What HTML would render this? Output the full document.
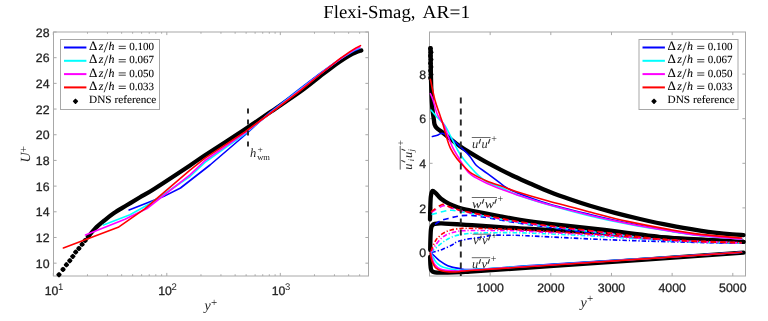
<!DOCTYPE html>
<html><head><meta charset="utf-8"><style>
html,body{margin:0;padding:0;background:#fff;overflow:hidden}
svg{display:block;will-change:transform;text-rendering:geometricPrecision}
.tk{font-family:"Liberation Sans",sans-serif;font-size:12.3px;fill:#262626;stroke:#262626;stroke-width:0.3px}
.sup{font-family:"Liberation Sans",sans-serif;font-size:9.5px;fill:#262626}
.mi{font-family:"Liberation Serif",serif;font-style:italic;font-size:14px;fill:#262626}
.pl{font-family:"Liberation Serif",serif;font-size:11px;fill:#262626}
.lg{font-family:"Liberation Serif",serif;font-size:11px;fill:#000;stroke:#000;stroke-width:0.08px}
.dl{font-size:13px}
.it{font-style:italic;font-size:12px}
.mih{font-family:"Liberation Serif",serif;font-style:italic;font-size:12.5px;fill:#262626}
.pls{font-family:"Liberation Serif",serif;font-size:9.5px;fill:#262626}
.sub{font-family:"Liberation Serif",serif;font-size:8.5px;fill:#262626}
.ml{font-family:"Liberation Serif",serif;font-style:italic;font-size:12.5px;fill:#262626}
.mlp{font-family:"Liberation Serif",serif;font-size:10px;fill:#262626}
.mpr{font-family:"Liberation Serif",serif;font-size:12px;fill:#262626}
.sb{font-family:"Liberation Serif",serif;font-style:italic;font-size:8.5px;fill:#262626}
.ti{font-family:"Liberation Serif",serif;font-size:18.5px;fill:#000}
</style></head><body>
<svg width="768" height="321" viewBox="0 0 768 321">
<rect width="768" height="321" fill="#fff"/>
<rect x="53.5" y="32" width="315.0" height="244" fill="none" stroke="#a8a8a8" stroke-width="1"/>
<line x1="53.5" y1="263.16" x2="56.6" y2="263.16" stroke="#a8a8a8" stroke-width="1"/>
<line x1="368.5" y1="263.16" x2="365.4" y2="263.16" stroke="#a8a8a8" stroke-width="1"/>
<text x="49.5" y="267.76" class="tk" text-anchor="end">10</text>
<line x1="53.5" y1="237.47" x2="56.6" y2="237.47" stroke="#a8a8a8" stroke-width="1"/>
<line x1="368.5" y1="237.47" x2="365.4" y2="237.47" stroke="#a8a8a8" stroke-width="1"/>
<text x="49.5" y="242.07" class="tk" text-anchor="end">12</text>
<line x1="53.5" y1="211.79" x2="56.6" y2="211.79" stroke="#a8a8a8" stroke-width="1"/>
<line x1="368.5" y1="211.79" x2="365.4" y2="211.79" stroke="#a8a8a8" stroke-width="1"/>
<text x="49.5" y="216.39" class="tk" text-anchor="end">14</text>
<line x1="53.5" y1="186.11" x2="56.6" y2="186.11" stroke="#a8a8a8" stroke-width="1"/>
<line x1="368.5" y1="186.11" x2="365.4" y2="186.11" stroke="#a8a8a8" stroke-width="1"/>
<text x="49.5" y="190.71" class="tk" text-anchor="end">16</text>
<line x1="53.5" y1="160.42" x2="56.6" y2="160.42" stroke="#a8a8a8" stroke-width="1"/>
<line x1="368.5" y1="160.42" x2="365.4" y2="160.42" stroke="#a8a8a8" stroke-width="1"/>
<text x="49.5" y="165.02" class="tk" text-anchor="end">18</text>
<line x1="53.5" y1="134.74" x2="56.6" y2="134.74" stroke="#a8a8a8" stroke-width="1"/>
<line x1="368.5" y1="134.74" x2="365.4" y2="134.74" stroke="#a8a8a8" stroke-width="1"/>
<text x="49.5" y="139.34" class="tk" text-anchor="end">20</text>
<line x1="53.5" y1="109.05" x2="56.6" y2="109.05" stroke="#a8a8a8" stroke-width="1"/>
<line x1="368.5" y1="109.05" x2="365.4" y2="109.05" stroke="#a8a8a8" stroke-width="1"/>
<text x="49.5" y="113.65" class="tk" text-anchor="end">22</text>
<line x1="53.5" y1="83.37" x2="56.6" y2="83.37" stroke="#a8a8a8" stroke-width="1"/>
<line x1="368.5" y1="83.37" x2="365.4" y2="83.37" stroke="#a8a8a8" stroke-width="1"/>
<text x="49.5" y="87.97" class="tk" text-anchor="end">24</text>
<line x1="53.5" y1="57.69" x2="56.6" y2="57.69" stroke="#a8a8a8" stroke-width="1"/>
<line x1="368.5" y1="57.69" x2="365.4" y2="57.69" stroke="#a8a8a8" stroke-width="1"/>
<text x="49.5" y="62.29" class="tk" text-anchor="end">26</text>
<line x1="53.5" y1="32.00" x2="56.6" y2="32.00" stroke="#a8a8a8" stroke-width="1"/>
<line x1="368.5" y1="32.00" x2="365.4" y2="32.00" stroke="#a8a8a8" stroke-width="1"/>
<text x="49.5" y="36.60" class="tk" text-anchor="end">28</text>
<line x1="53.30" y1="276" x2="53.30" y2="272.9" stroke="#a8a8a8" stroke-width="1"/>
<line x1="53.30" y1="32" x2="53.30" y2="35.1" stroke="#a8a8a8" stroke-width="1"/>
<line x1="87.47" y1="276" x2="87.47" y2="274.295" stroke="#a8a8a8" stroke-width="1"/>
<line x1="87.47" y1="32" x2="87.47" y2="33.705" stroke="#a8a8a8" stroke-width="1"/>
<line x1="107.45" y1="276" x2="107.45" y2="274.295" stroke="#a8a8a8" stroke-width="1"/>
<line x1="107.45" y1="32" x2="107.45" y2="33.705" stroke="#a8a8a8" stroke-width="1"/>
<line x1="121.63" y1="276" x2="121.63" y2="274.295" stroke="#a8a8a8" stroke-width="1"/>
<line x1="121.63" y1="32" x2="121.63" y2="33.705" stroke="#a8a8a8" stroke-width="1"/>
<line x1="132.63" y1="276" x2="132.63" y2="274.295" stroke="#a8a8a8" stroke-width="1"/>
<line x1="132.63" y1="32" x2="132.63" y2="33.705" stroke="#a8a8a8" stroke-width="1"/>
<line x1="141.62" y1="276" x2="141.62" y2="274.295" stroke="#a8a8a8" stroke-width="1"/>
<line x1="141.62" y1="32" x2="141.62" y2="33.705" stroke="#a8a8a8" stroke-width="1"/>
<line x1="149.22" y1="276" x2="149.22" y2="274.295" stroke="#a8a8a8" stroke-width="1"/>
<line x1="149.22" y1="32" x2="149.22" y2="33.705" stroke="#a8a8a8" stroke-width="1"/>
<line x1="155.80" y1="276" x2="155.80" y2="274.295" stroke="#a8a8a8" stroke-width="1"/>
<line x1="155.80" y1="32" x2="155.80" y2="33.705" stroke="#a8a8a8" stroke-width="1"/>
<line x1="161.61" y1="276" x2="161.61" y2="274.295" stroke="#a8a8a8" stroke-width="1"/>
<line x1="161.61" y1="32" x2="161.61" y2="33.705" stroke="#a8a8a8" stroke-width="1"/>
<text x="44.70" y="294.8" class="tk">10</text><text x="57.90" y="289.8" class="sup">1</text>
<line x1="166.80" y1="276" x2="166.80" y2="272.9" stroke="#a8a8a8" stroke-width="1"/>
<line x1="166.80" y1="32" x2="166.80" y2="35.1" stroke="#a8a8a8" stroke-width="1"/>
<line x1="200.97" y1="276" x2="200.97" y2="274.295" stroke="#a8a8a8" stroke-width="1"/>
<line x1="200.97" y1="32" x2="200.97" y2="33.705" stroke="#a8a8a8" stroke-width="1"/>
<line x1="220.95" y1="276" x2="220.95" y2="274.295" stroke="#a8a8a8" stroke-width="1"/>
<line x1="220.95" y1="32" x2="220.95" y2="33.705" stroke="#a8a8a8" stroke-width="1"/>
<line x1="235.13" y1="276" x2="235.13" y2="274.295" stroke="#a8a8a8" stroke-width="1"/>
<line x1="235.13" y1="32" x2="235.13" y2="33.705" stroke="#a8a8a8" stroke-width="1"/>
<line x1="246.13" y1="276" x2="246.13" y2="274.295" stroke="#a8a8a8" stroke-width="1"/>
<line x1="246.13" y1="32" x2="246.13" y2="33.705" stroke="#a8a8a8" stroke-width="1"/>
<line x1="255.12" y1="276" x2="255.12" y2="274.295" stroke="#a8a8a8" stroke-width="1"/>
<line x1="255.12" y1="32" x2="255.12" y2="33.705" stroke="#a8a8a8" stroke-width="1"/>
<line x1="262.72" y1="276" x2="262.72" y2="274.295" stroke="#a8a8a8" stroke-width="1"/>
<line x1="262.72" y1="32" x2="262.72" y2="33.705" stroke="#a8a8a8" stroke-width="1"/>
<line x1="269.30" y1="276" x2="269.30" y2="274.295" stroke="#a8a8a8" stroke-width="1"/>
<line x1="269.30" y1="32" x2="269.30" y2="33.705" stroke="#a8a8a8" stroke-width="1"/>
<line x1="275.11" y1="276" x2="275.11" y2="274.295" stroke="#a8a8a8" stroke-width="1"/>
<line x1="275.11" y1="32" x2="275.11" y2="33.705" stroke="#a8a8a8" stroke-width="1"/>
<text x="158.20" y="294.8" class="tk">10</text><text x="171.40" y="289.8" class="sup">2</text>
<line x1="280.30" y1="276" x2="280.30" y2="272.9" stroke="#a8a8a8" stroke-width="1"/>
<line x1="280.30" y1="32" x2="280.30" y2="35.1" stroke="#a8a8a8" stroke-width="1"/>
<line x1="314.47" y1="276" x2="314.47" y2="274.295" stroke="#a8a8a8" stroke-width="1"/>
<line x1="314.47" y1="32" x2="314.47" y2="33.705" stroke="#a8a8a8" stroke-width="1"/>
<line x1="334.45" y1="276" x2="334.45" y2="274.295" stroke="#a8a8a8" stroke-width="1"/>
<line x1="334.45" y1="32" x2="334.45" y2="33.705" stroke="#a8a8a8" stroke-width="1"/>
<line x1="348.63" y1="276" x2="348.63" y2="274.295" stroke="#a8a8a8" stroke-width="1"/>
<line x1="348.63" y1="32" x2="348.63" y2="33.705" stroke="#a8a8a8" stroke-width="1"/>
<line x1="359.63" y1="276" x2="359.63" y2="274.295" stroke="#a8a8a8" stroke-width="1"/>
<line x1="359.63" y1="32" x2="359.63" y2="33.705" stroke="#a8a8a8" stroke-width="1"/>
<text x="271.70" y="294.8" class="tk">10</text><text x="284.90" y="289.8" class="sup">3</text>
<text x="204.5" y="310.3" class="mi">y</text><text x="211" y="305.8" class="pl">+</text>
<g transform="translate(29.6,158) rotate(-90)"><text x="-4.5" y="0" class="mi">U</text><text x="5.8" y="-2.2" class="pl">+</text></g>
<rect x="429.5" y="32" width="316.0" height="244" fill="none" stroke="#a8a8a8" stroke-width="1"/>
<line x1="429.5" y1="252.50" x2="432.6" y2="252.50" stroke="#a8a8a8" stroke-width="1"/>
<line x1="745.5" y1="252.50" x2="742.4" y2="252.50" stroke="#a8a8a8" stroke-width="1"/>
<text x="426" y="257.10" class="tk" text-anchor="end">0</text>
<line x1="429.5" y1="207.90" x2="432.6" y2="207.90" stroke="#a8a8a8" stroke-width="1"/>
<line x1="745.5" y1="207.90" x2="742.4" y2="207.90" stroke="#a8a8a8" stroke-width="1"/>
<text x="426" y="212.50" class="tk" text-anchor="end">2</text>
<line x1="429.5" y1="163.30" x2="432.6" y2="163.30" stroke="#a8a8a8" stroke-width="1"/>
<line x1="745.5" y1="163.30" x2="742.4" y2="163.30" stroke="#a8a8a8" stroke-width="1"/>
<text x="426" y="167.90" class="tk" text-anchor="end">4</text>
<line x1="429.5" y1="118.70" x2="432.6" y2="118.70" stroke="#a8a8a8" stroke-width="1"/>
<line x1="745.5" y1="118.70" x2="742.4" y2="118.70" stroke="#a8a8a8" stroke-width="1"/>
<text x="426" y="123.30" class="tk" text-anchor="end">6</text>
<line x1="429.5" y1="74.10" x2="432.6" y2="74.10" stroke="#a8a8a8" stroke-width="1"/>
<line x1="745.5" y1="74.10" x2="742.4" y2="74.10" stroke="#a8a8a8" stroke-width="1"/>
<text x="426" y="78.70" class="tk" text-anchor="end">8</text>
<line x1="490.16" y1="276" x2="490.16" y2="272.9" stroke="#a8a8a8" stroke-width="1"/>
<line x1="490.16" y1="32" x2="490.16" y2="35.1" stroke="#a8a8a8" stroke-width="1"/>
<text x="490.16" y="291.5" class="tk" text-anchor="middle">1000</text>
<line x1="550.82" y1="276" x2="550.82" y2="272.9" stroke="#a8a8a8" stroke-width="1"/>
<line x1="550.82" y1="32" x2="550.82" y2="35.1" stroke="#a8a8a8" stroke-width="1"/>
<text x="550.82" y="291.5" class="tk" text-anchor="middle">2000</text>
<line x1="611.48" y1="276" x2="611.48" y2="272.9" stroke="#a8a8a8" stroke-width="1"/>
<line x1="611.48" y1="32" x2="611.48" y2="35.1" stroke="#a8a8a8" stroke-width="1"/>
<text x="611.48" y="291.5" class="tk" text-anchor="middle">3000</text>
<line x1="672.14" y1="276" x2="672.14" y2="272.9" stroke="#a8a8a8" stroke-width="1"/>
<line x1="672.14" y1="32" x2="672.14" y2="35.1" stroke="#a8a8a8" stroke-width="1"/>
<text x="672.14" y="291.5" class="tk" text-anchor="middle">4000</text>
<line x1="732.80" y1="276" x2="732.80" y2="272.9" stroke="#a8a8a8" stroke-width="1"/>
<line x1="732.80" y1="32" x2="732.80" y2="35.1" stroke="#a8a8a8" stroke-width="1"/>
<text x="732.80" y="291.5" class="tk" text-anchor="middle">5000</text>
<text x="580.5" y="306.5" class="mi">y</text><text x="587" y="301.5" class="pl">+</text>
<rect x="56.8" y="272.5" width="4.4" height="4.4" rx="1.2" fill="#000" transform="rotate(45 59 274.7)"/>
<rect x="60.8" y="267.2" width="4.4" height="4.4" rx="1.2" fill="#000" transform="rotate(45 63 269.4)"/>
<rect x="64.2" y="262.6" width="4.4" height="4.4" rx="1.2" fill="#000" transform="rotate(45 66.4 264.8)"/>
<rect x="67.6" y="258.5" width="4.4" height="4.4" rx="1.2" fill="#000" transform="rotate(45 69.8 260.7)"/>
<rect x="70.6" y="254.2" width="4.4" height="4.4" rx="1.2" fill="#000" transform="rotate(45 72.8 256.4)"/>
<rect x="73.5" y="249.9" width="4.4" height="4.4" rx="1.2" fill="#000" transform="rotate(45 75.7 252.1)"/>
<rect x="76.7" y="246.20000000000002" width="4.4" height="4.4" rx="1.2" fill="#000" transform="rotate(45 78.9 248.4)"/>
<rect x="79.89999999999999" y="242.10000000000002" width="4.4" height="4.4" rx="1.2" fill="#000" transform="rotate(45 82.1 244.3)"/>
<rect x="83.0" y="238.20000000000002" width="4.4" height="4.4" rx="1.2" fill="#000" transform="rotate(45 85.2 240.4)"/>
<rect x="86.0" y="234.60000000000002" width="4.4" height="4.4" rx="1.2" fill="#000" transform="rotate(45 88.2 236.8)"/>
<path d="M88.20,236.80 C89.33,235.43 92.32,231.32 95.00,228.60 C97.68,225.88 101.18,223.05 104.30,220.50 C107.42,217.95 109.97,215.83 113.70,213.30 C117.43,210.77 122.32,207.97 126.70,205.30 C131.08,202.63 135.30,200.12 140.00,197.30 C144.70,194.48 146.57,193.72 154.90,188.40 C163.23,183.08 181.65,170.93 190.00,165.40 C198.35,159.87 195.83,161.22 205.00,155.20 C214.17,149.18 234.17,136.45 245.00,129.30 C255.83,122.15 260.83,118.55 270.00,112.30 C279.17,106.05 291.67,97.80 300.00,91.80 C308.33,85.80 315.00,80.15 320.00,76.30 C325.00,72.45 326.67,71.15 330.00,68.70 C333.33,66.25 336.67,63.83 340.00,61.60 C343.33,59.37 347.33,56.85 350.00,55.30 C352.67,53.75 354.12,53.10 356.00,52.30 C357.88,51.50 360.42,50.80 361.30,50.50" fill="none" stroke="#000" stroke-width="4.2" stroke-linejoin="round" stroke-linecap="round" />
<path d="M129.10,209.90 L163.40,196.60 L180.50,188.00 L210.00,165.00 L245.00,135.00 L270.00,112.20 L300.00,88.70 L320.00,73.40 L335.00,62.60 L345.00,56.00 L355.00,50.40 L359.50,48.40" fill="none" stroke="#0000ff" stroke-width="1.6" stroke-linejoin="round" stroke-linecap="round" />
<path d="M103.40,224.90 L130.00,214.80 L149.30,204.00 L190.00,176.50 L205.00,162.40 L245.00,133.80 L270.00,112.80 L300.00,89.40 L320.00,73.80 L330.00,66.30 L340.00,59.20 L350.00,52.80 L356.00,49.40 L359.50,48.00" fill="none" stroke="#00ffff" stroke-width="1.6" stroke-linejoin="round" stroke-linecap="round" />
<path d="M85.50,235.00 L125.00,219.20 L147.00,208.50 L190.00,174.80 L205.00,160.50 L245.00,132.80 L270.00,113.30 L300.00,90.10 L320.00,74.20 L330.00,66.50 L340.00,59.00 L350.00,52.30 L356.00,48.90 L360.00,47.00" fill="none" stroke="#ff00ff" stroke-width="1.6" stroke-linejoin="round" stroke-linecap="round" />
<path d="M63.40,248.00 L118.20,227.30 L144.70,208.80 L190.00,170.10 L205.00,158.20 L245.00,131.90 L270.00,113.50 L300.00,90.80 L320.00,74.50 L330.00,66.50 L340.00,58.60 L350.00,51.60 L356.00,47.90 L360.50,45.60" fill="none" stroke="#ff0000" stroke-width="1.6" stroke-linejoin="round" stroke-linecap="round" />
<line x1="248" y1="108.5" x2="248" y2="148" stroke="#262626" stroke-width="1.9" stroke-dasharray="5 6"/>
<text x="250" y="156.6" class="mih">h</text><text x="257.6" y="153.2" class="pls">+</text><text x="257.2" y="159.6" class="sub">wm</text>
<circle cx="430.50" cy="48.50" r="2.4" fill="#000"/>
<circle cx="431.00" cy="52.20" r="2.4" fill="#000"/>
<circle cx="430.50" cy="55.90" r="2.4" fill="#000"/>
<circle cx="431.00" cy="59.60" r="2.4" fill="#000"/>
<circle cx="430.50" cy="63.30" r="2.4" fill="#000"/>
<circle cx="431.00" cy="67.00" r="2.4" fill="#000"/>
<circle cx="430.50" cy="70.70" r="2.4" fill="#000"/>
<circle cx="431.00" cy="74.40" r="2.4" fill="#000"/>
<circle cx="430.50" cy="78.10" r="2.4" fill="#000"/>
<path d="M430.40,48.50 C430.43,50.42 430.52,55.58 430.60,60.00 C430.68,64.42 430.75,69.17 430.90,75.00 C431.05,80.83 431.27,89.50 431.50,95.00 C431.73,100.50 431.90,103.83 432.30,108.00 C432.70,112.17 433.52,117.25 433.90,120.00 C434.28,122.75 434.13,123.15 434.60,124.50 C435.07,125.85 435.52,126.88 436.70,128.10 C437.88,129.32 439.48,130.07 441.70,131.80 C443.92,133.53 446.95,136.10 450.00,138.50 C453.05,140.90 456.67,143.85 460.00,146.20 C463.33,148.55 466.67,150.53 470.00,152.60 C473.33,154.67 476.67,156.67 480.00,158.60 C483.33,160.53 486.67,162.40 490.00,164.20 C493.33,166.00 495.83,167.30 500.00,169.40 C504.17,171.50 510.00,174.45 515.00,176.80 C520.00,179.15 524.17,180.97 530.00,183.50 C535.83,186.03 543.33,189.37 550.00,192.00 C556.67,194.63 563.33,197.00 570.00,199.30 C576.67,201.60 582.50,203.53 590.00,205.80 C597.50,208.07 606.67,210.70 615.00,212.90 C623.33,215.10 630.83,216.92 640.00,219.00 C649.17,221.08 660.00,223.47 670.00,225.40 C680.00,227.33 692.22,229.35 700.00,230.60 C707.78,231.85 711.32,232.27 716.70,232.90 C722.08,233.53 727.83,234.03 732.30,234.40 C736.77,234.77 741.63,234.98 743.50,235.10" fill="none" stroke="#000" stroke-width="4.3" stroke-linejoin="round" stroke-linecap="round" />
<path d="M430.00,219.50 C430.05,217.58 430.17,211.75 430.30,208.00 C430.43,204.25 430.48,199.80 430.80,197.00 C431.12,194.20 431.58,192.03 432.20,191.20 C432.82,190.37 433.70,191.45 434.50,192.00 C435.30,192.55 435.92,193.38 437.00,194.50 C438.08,195.62 438.95,197.13 441.00,198.70 C443.05,200.27 446.35,202.42 449.30,203.90 C452.25,205.38 455.92,206.63 458.70,207.60 C461.48,208.57 462.45,208.92 466.00,209.70 C469.55,210.48 474.28,211.20 480.00,212.30 C485.72,213.40 493.63,215.05 500.30,216.30 C506.97,217.55 511.72,218.55 520.00,219.80 C528.28,221.05 536.67,222.18 550.00,223.80 C563.33,225.42 580.00,227.13 600.00,229.50 C620.00,231.87 653.15,236.25 670.00,238.00 C686.85,239.75 688.85,239.35 701.10,240.00 C713.35,240.65 736.43,241.58 743.50,241.90" fill="none" stroke="#000" stroke-width="4.3" stroke-linejoin="round" stroke-linecap="round" />
<path d="M430.20,250.00 C430.23,248.33 430.27,243.50 430.40,240.00 C430.53,236.50 430.67,231.45 431.00,229.00 C431.33,226.55 431.78,226.17 432.40,225.30 C433.02,224.43 433.43,224.12 434.70,223.80 C435.97,223.48 438.33,223.43 440.00,223.40 C441.67,223.37 440.37,223.37 444.70,223.60 C449.03,223.83 459.62,224.40 466.00,224.80 C472.38,225.20 474.00,225.40 483.00,226.00 C492.00,226.60 500.50,227.30 520.00,228.40 C539.50,229.50 575.00,231.03 600.00,232.60 C625.00,234.17 646.08,236.25 670.00,237.80 C693.92,239.35 731.25,241.22 743.50,241.90" fill="none" stroke="#000" stroke-width="4.3" stroke-linejoin="round" stroke-linecap="round" />
<path d="M430.10,257.00 C430.15,258.25 430.25,262.45 430.40,264.50 C430.55,266.55 430.65,268.13 431.00,269.30 C431.35,270.47 431.83,270.98 432.50,271.50 C433.17,272.02 433.75,272.20 435.00,272.40 C436.25,272.60 437.87,272.67 440.00,272.70 C442.13,272.73 444.47,272.70 447.80,272.60 C451.13,272.50 456.30,272.28 460.00,272.10 C463.70,271.92 455.00,272.48 470.00,271.50 C485.00,270.52 504.42,269.35 550.00,266.20 C595.58,263.05 711.25,254.87 743.50,252.60" fill="none" stroke="#000" stroke-width="4.3" stroke-linejoin="round" stroke-linecap="round" />
<path d="M432.40,136.50 C433.22,136.30 435.53,135.82 437.30,135.30 C439.07,134.78 440.52,132.73 443.00,133.40 C445.48,134.07 449.20,136.97 452.20,139.30 C455.20,141.63 458.08,144.58 461.00,147.40 C463.92,150.22 467.17,153.23 469.70,156.20 C472.23,159.17 473.28,162.33 476.20,165.20 C479.12,168.07 483.30,170.48 487.20,173.40 C491.10,176.32 496.50,180.40 499.60,182.70 C502.70,185.00 503.07,185.60 505.80,187.20 C508.53,188.80 509.07,189.58 516.00,192.30 C522.93,195.02 535.07,199.80 547.40,203.50 C559.73,207.20 576.67,211.25 590.00,214.50 C603.33,217.75 614.07,220.28 627.40,223.00 C640.73,225.72 657.72,228.73 670.00,230.80 C682.28,232.87 689.17,234.07 701.10,235.40 C713.03,236.73 734.85,238.23 741.60,238.80" fill="none" stroke="#0000ff" stroke-width="1.6" stroke-linejoin="round" stroke-linecap="round" />
<path d="M435.00,224.30 C436.00,223.68 438.50,221.65 441.00,220.60 C443.50,219.55 447.00,218.77 450.00,218.00 C453.00,217.23 456.00,216.43 459.00,216.00 C462.00,215.57 464.50,215.32 468.00,215.40 C471.50,215.48 470.33,215.03 480.00,216.50 C489.67,217.97 506.00,221.28 526.00,224.20 C546.00,227.12 576.00,231.23 600.00,234.00 C624.00,236.77 646.42,239.27 670.00,240.80 C693.58,242.33 729.58,242.80 741.50,243.20" fill="none" stroke="#0000ff" stroke-width="1.6" stroke-dasharray="5.5 4" stroke-linecap="butt"/>
<path d="M431.40,252.60 C433.22,252.07 438.85,250.67 442.30,249.40 C445.75,248.13 449.62,246.27 452.10,245.00 C454.58,243.73 454.88,242.73 457.20,241.80 C459.52,240.87 461.67,240.20 466.00,239.40 C470.33,238.60 478.87,237.68 483.20,237.00 C487.53,236.32 487.53,235.58 492.00,235.30 C496.47,235.02 504.33,235.23 510.00,235.30 C515.67,235.37 511.00,235.02 526.00,235.70 C541.00,236.38 576.00,238.38 600.00,239.40 C624.00,240.42 646.42,241.15 670.00,241.80 C693.58,242.45 729.58,243.05 741.50,243.30" fill="none" stroke="#0000ff" stroke-width="1.6" stroke-dasharray="4.5 2 1.2 2" stroke-linecap="butt"/>
<path d="M431.00,253.00 C431.67,253.58 433.65,255.28 435.00,256.50 C436.35,257.72 436.97,258.77 439.10,260.30 C441.23,261.83 444.53,264.35 447.80,265.70 C451.07,267.05 454.00,267.80 458.70,268.40 C463.40,269.00 460.78,269.97 476.00,269.30 C491.22,268.63 505.75,267.23 550.00,264.40 C594.25,261.57 709.58,254.32 741.50,252.30" fill="none" stroke="#0000ff" stroke-width="1.6" stroke-linejoin="round" stroke-linecap="round" />
<path d="M431.00,110.00 C431.83,111.00 433.75,113.50 436.00,116.00 C438.25,118.50 441.95,121.42 444.50,125.00 C447.05,128.58 449.12,133.33 451.30,137.50 C453.48,141.67 455.57,146.42 457.60,150.00 C459.63,153.58 461.35,156.15 463.50,159.00 C465.65,161.85 468.12,164.45 470.50,167.10 C472.88,169.75 475.02,172.43 477.80,174.90 C480.58,177.37 483.05,179.68 487.20,181.90 C491.35,184.12 497.90,186.10 502.70,188.20 C507.50,190.30 508.55,191.78 516.00,194.50 C523.45,197.22 535.07,200.92 547.40,204.50 C559.73,208.08 576.67,212.75 590.00,216.00 C603.33,219.25 614.07,221.45 627.40,224.00 C640.73,226.55 657.72,229.35 670.00,231.30 C682.28,233.25 689.17,234.42 701.10,235.70 C713.03,236.98 734.85,238.45 741.60,239.00" fill="none" stroke="#00ffff" stroke-width="1.6" stroke-linejoin="round" stroke-linecap="round" />
<path d="M431.60,214.60 C433.83,214.00 441.60,211.72 445.00,211.00 C448.40,210.28 449.40,210.17 452.00,210.30 C454.60,210.43 455.93,210.98 460.60,211.80 C465.27,212.62 469.10,213.20 480.00,215.20 C490.90,217.20 506.00,220.90 526.00,223.80 C546.00,226.70 576.00,229.82 600.00,232.60 C624.00,235.38 646.42,238.77 670.00,240.50 C693.58,242.23 729.58,242.58 741.50,243.00" fill="none" stroke="#00ffff" stroke-width="1.6" stroke-dasharray="5.5 4" stroke-linecap="butt"/>
<path d="M431.00,252.40 C432.67,250.95 437.67,246.20 441.00,243.70 C444.33,241.20 446.83,239.07 451.00,237.40 C455.17,235.73 459.50,234.47 466.00,233.70 C472.50,232.93 480.00,232.92 490.00,232.80 C500.00,232.68 507.67,232.40 526.00,233.00 C544.33,233.60 576.00,235.13 600.00,236.40 C624.00,237.67 646.42,239.50 670.00,240.60 C693.58,241.70 729.58,242.60 741.50,243.00" fill="none" stroke="#00ffff" stroke-width="1.6" stroke-dasharray="4.5 2 1.2 2" stroke-linecap="butt"/>
<path d="M430.80,253.00 C431.25,253.83 432.48,256.33 433.50,258.00 C434.52,259.67 435.25,261.45 436.90,263.00 C438.55,264.55 439.77,266.08 443.40,267.30 C447.03,268.52 454.27,269.88 458.70,270.30 C463.13,270.72 454.78,270.72 470.00,269.80 C485.22,268.88 504.75,267.72 550.00,264.80 C595.25,261.88 709.58,254.38 741.50,252.30" fill="none" stroke="#00ffff" stroke-width="1.6" stroke-linejoin="round" stroke-linecap="round" />
<path d="M430.40,93.70 C430.83,94.75 431.80,96.45 433.00,100.00 C434.20,103.55 435.77,110.83 437.60,115.00 C439.43,119.17 442.18,121.25 444.00,125.00 C445.82,128.75 446.95,133.55 448.50,137.50 C450.05,141.45 451.63,145.37 453.30,148.70 C454.97,152.03 456.63,154.40 458.50,157.50 C460.37,160.60 462.32,164.35 464.50,167.30 C466.68,170.25 467.82,172.50 471.60,175.20 C475.38,177.90 482.02,181.08 487.20,183.50 C492.38,185.92 497.90,187.88 502.70,189.70 C507.50,191.52 508.55,191.97 516.00,194.40 C523.45,196.83 535.07,200.83 547.40,204.30 C559.73,207.77 576.67,212.00 590.00,215.20 C603.33,218.40 614.07,220.87 627.40,223.50 C640.73,226.13 657.72,229.00 670.00,231.00 C682.28,233.00 689.17,234.17 701.10,235.50 C713.03,236.83 734.85,238.42 741.60,239.00" fill="none" stroke="#ff00ff" stroke-width="1.6" stroke-linejoin="round" stroke-linecap="round" />
<path d="M431.50,212.20 C433.50,211.13 440.22,206.52 443.50,205.80 C446.78,205.08 448.45,207.10 451.20,207.90 C453.95,208.70 455.20,209.45 460.00,210.60 C464.80,211.75 469.00,212.68 480.00,214.80 C491.00,216.92 506.00,220.40 526.00,223.30 C546.00,226.20 576.00,229.37 600.00,232.20 C624.00,235.03 646.42,238.50 670.00,240.30 C693.58,242.10 729.58,242.55 741.50,243.00" fill="none" stroke="#ff00ff" stroke-width="1.6" stroke-dasharray="5.5 4" stroke-linecap="butt"/>
<path d="M431.00,252.00 C432.25,250.20 436.00,244.03 438.50,241.20 C441.00,238.37 443.10,236.57 446.00,235.00 C448.90,233.43 452.57,232.53 455.90,231.80 C459.23,231.07 458.65,230.82 466.00,230.60 C473.35,230.38 490.00,230.40 500.00,230.50 C510.00,230.60 509.33,230.38 526.00,231.20 C542.67,232.02 576.00,233.90 600.00,235.40 C624.00,236.90 646.42,238.97 670.00,240.20 C693.58,241.43 729.58,242.37 741.50,242.80" fill="none" stroke="#ff00ff" stroke-width="1.6" stroke-dasharray="4.5 2 1.2 2" stroke-linecap="butt"/>
<path d="M430.60,253.00 C430.92,254.08 431.82,257.57 432.50,259.50 C433.18,261.43 433.42,263.02 434.70,264.60 C435.98,266.18 437.12,267.95 440.20,269.00 C443.28,270.05 448.23,270.70 453.20,270.90 C458.17,271.10 453.87,271.18 470.00,270.20 C486.13,269.22 504.75,267.98 550.00,265.00 C595.25,262.02 709.58,254.42 741.50,252.30" fill="none" stroke="#ff00ff" stroke-width="1.6" stroke-linejoin="round" stroke-linecap="round" />
<path d="M430.40,79.40 C431.15,82.83 433.32,94.07 434.90,100.00 C436.48,105.93 438.52,110.83 439.90,115.00 C441.28,119.17 442.08,121.25 443.20,125.00 C444.32,128.75 445.37,133.55 446.60,137.50 C447.83,141.45 448.87,145.17 450.60,148.70 C452.33,152.23 454.72,155.68 457.00,158.70 C459.28,161.72 461.87,164.35 464.30,166.80 C466.73,169.25 467.78,171.00 471.60,173.40 C475.42,175.80 482.02,179.00 487.20,181.20 C492.38,183.40 497.90,184.88 502.70,186.60 C507.50,188.32 508.55,189.13 516.00,191.50 C523.45,193.87 535.07,197.38 547.40,200.80 C559.73,204.22 576.67,208.57 590.00,212.00 C603.33,215.43 614.07,218.47 627.40,221.40 C640.73,224.33 657.72,227.43 670.00,229.60 C682.28,231.77 689.17,233.00 701.10,234.40 C713.03,235.80 734.85,237.40 741.60,238.00" fill="none" stroke="#ff0000" stroke-width="1.6" stroke-linejoin="round" stroke-linecap="round" />
<path d="M431.00,211.80 C432.87,210.60 439.15,205.43 442.20,204.60 C445.25,203.77 446.55,205.90 449.30,206.80 C452.05,207.70 453.58,208.73 458.70,210.00 C463.82,211.27 468.78,212.27 480.00,214.40 C491.22,216.53 506.00,219.90 526.00,222.80 C546.00,225.70 576.00,228.93 600.00,231.80 C624.00,234.67 646.42,238.17 670.00,240.00 C693.58,241.83 729.58,242.33 741.50,242.80" fill="none" stroke="#ff0000" stroke-width="1.6" stroke-dasharray="5.5 4" stroke-linecap="butt"/>
<path d="M431.00,251.00 C431.83,249.17 433.93,242.98 436.00,240.00 C438.07,237.02 440.90,234.77 443.40,233.10 C445.90,231.43 448.08,230.77 451.00,230.00 C453.92,229.23 458.40,228.78 460.90,228.50 C463.40,228.22 461.15,228.28 466.00,228.30 C470.85,228.32 480.00,228.32 490.00,228.60 C500.00,228.88 507.67,229.00 526.00,230.00 C544.33,231.00 576.00,232.97 600.00,234.60 C624.00,236.23 646.42,238.47 670.00,239.80 C693.58,241.13 729.58,242.13 741.50,242.60" fill="none" stroke="#ff0000" stroke-width="1.6" stroke-dasharray="4.5 2 1.2 2" stroke-linecap="butt"/>
<path d="M430.40,253.00 C430.53,253.83 430.85,256.43 431.20,258.00 C431.55,259.57 431.73,260.75 432.50,262.40 C433.27,264.05 434.17,266.45 435.80,267.90 C437.43,269.35 439.93,270.43 442.30,271.10 C444.67,271.77 447.27,271.80 450.00,271.90 C452.73,272.00 455.37,271.93 458.70,271.70 C462.03,271.47 454.78,271.58 470.00,270.50 C485.22,269.42 504.75,268.23 550.00,265.20 C595.25,262.17 709.58,254.45 741.50,252.30" fill="none" stroke="#ff0000" stroke-width="1.6" stroke-linejoin="round" stroke-linecap="round" />
<line x1="460.8" y1="97.5" x2="460.8" y2="276" stroke="#262626" stroke-width="1.9" stroke-dasharray="6 5"/>
<text x="472.1" y="147.6" class="ml" textLength="6.2" lengthAdjust="spacingAndGlyphs">u</text><path d="M480.50,139.40 L479.20,143.30" stroke="#3a3a3a" stroke-width="1.2" stroke-linecap="round"/><text x="481.60" y="147.6" class="ml" textLength="6.2" lengthAdjust="spacingAndGlyphs">u</text><path d="M489.80,139.40 L488.50,143.30" stroke="#3a3a3a" stroke-width="1.2" stroke-linecap="round"/><line x1="471.80" y1="137.50" x2="490.60" y2="137.50" stroke="#3a3a3a" stroke-width="0.75"/><text x="491.20" y="142.00" class="mlp">+</text>
<text x="472.1" y="207.6" class="ml" textLength="9.4" lengthAdjust="spacingAndGlyphs">w</text><path d="M483.70,199.40 L482.40,203.30" stroke="#3a3a3a" stroke-width="1.2" stroke-linecap="round"/><text x="484.80" y="207.6" class="ml" textLength="9.4" lengthAdjust="spacingAndGlyphs">w</text><path d="M496.20,199.40 L494.90,203.30" stroke="#3a3a3a" stroke-width="1.2" stroke-linecap="round"/><line x1="471.80" y1="197.50" x2="497.00" y2="197.50" stroke="#3a3a3a" stroke-width="0.75"/><text x="497.60" y="202.00" class="mlp">+</text>
<text x="473" y="244.3" class="ml" textLength="5.8" lengthAdjust="spacingAndGlyphs">v</text><path d="M481.00,236.10 L479.70,240.00" stroke="#3a3a3a" stroke-width="1.2" stroke-linecap="round"/><text x="482.10" y="244.3" class="ml" textLength="5.8" lengthAdjust="spacingAndGlyphs">v</text><path d="M489.90,236.10 L488.60,240.00" stroke="#3a3a3a" stroke-width="1.2" stroke-linecap="round"/><line x1="472.70" y1="234.20" x2="490.70" y2="234.20" stroke="#3a3a3a" stroke-width="0.75"/><text x="491.30" y="238.70" class="mlp">+</text>
<text x="472.1" y="267.8" class="ml" textLength="6.2" lengthAdjust="spacingAndGlyphs">u</text><path d="M480.50,259.60 L479.20,263.50" stroke="#3a3a3a" stroke-width="1.2" stroke-linecap="round"/><text x="481.60" y="267.8" class="ml" textLength="5.8" lengthAdjust="spacingAndGlyphs">v</text><path d="M489.40,259.60 L488.10,263.50" stroke="#3a3a3a" stroke-width="1.2" stroke-linecap="round"/><line x1="471.80" y1="257.70" x2="490.20" y2="257.70" stroke="#3a3a3a" stroke-width="0.75"/><text x="490.80" y="262.20" class="mlp">+</text>
<g transform="translate(411.5,157) rotate(-90)"><line x1="-12.6" y1="-11.3" x2="11" y2="-11.3" stroke="#3a3a3a" stroke-width="0.8"/><text x="-12.8" y="0" class="ml">u</text><path d="M-3.6,-9.8 L-4.9,-6.6" stroke="#3a3a3a" stroke-width="1.1" stroke-linecap="round"/><text x="-4.3" y="2" class="sb">i</text><text x="-1.1" y="0" class="ml">u</text><path d="M7.8,-9.6 L6.5,-6.6" stroke="#3a3a3a" stroke-width="1.1" stroke-linecap="round"/><text x="5.5" y="2.3" class="sb">j</text><text x="11.3" y="-7.8" class="mlp">+</text></g>
<rect x="60.5" y="39.5" width="99.0" height="70.0" fill="#fff" stroke="#a8a8a8" stroke-width="1"/>
<line x1="64.0" y1="47.50" x2="86.4" y2="47.50" stroke="#0000ff" stroke-width="2"/>
<line x1="118.70" y1="46.30" x2="125.80" y2="46.30" stroke="#222" stroke-width="0.85"/><line x1="118.70" y1="48.60" x2="125.80" y2="48.60" stroke="#222" stroke-width="0.85"/><line x1="107.70" y1="42.30" x2="104.10" y2="52.40" stroke="#222" stroke-width="0.9"/>
<text y="50.00" class="lg"><tspan x="89.00" class="dl">Δ</tspan><tspan x="98.80" class="it">z</tspan><tspan x="108.40" class="it">h</tspan><tspan x="129.20">0.100</tspan></text>
<line x1="64.0" y1="60.80" x2="86.4" y2="60.80" stroke="#00ffff" stroke-width="2"/>
<line x1="118.70" y1="59.60" x2="125.80" y2="59.60" stroke="#222" stroke-width="0.85"/><line x1="118.70" y1="61.90" x2="125.80" y2="61.90" stroke="#222" stroke-width="0.85"/><line x1="107.70" y1="55.60" x2="104.10" y2="65.70" stroke="#222" stroke-width="0.9"/>
<text y="63.30" class="lg"><tspan x="89.00" class="dl">Δ</tspan><tspan x="98.80" class="it">z</tspan><tspan x="108.40" class="it">h</tspan><tspan x="129.20">0.067</tspan></text>
<line x1="64.0" y1="74.10" x2="86.4" y2="74.10" stroke="#ff00ff" stroke-width="2"/>
<line x1="118.70" y1="72.90" x2="125.80" y2="72.90" stroke="#222" stroke-width="0.85"/><line x1="118.70" y1="75.20" x2="125.80" y2="75.20" stroke="#222" stroke-width="0.85"/><line x1="107.70" y1="68.90" x2="104.10" y2="79.00" stroke="#222" stroke-width="0.9"/>
<text y="76.60" class="lg"><tspan x="89.00" class="dl">Δ</tspan><tspan x="98.80" class="it">z</tspan><tspan x="108.40" class="it">h</tspan><tspan x="129.20">0.050</tspan></text>
<line x1="64.0" y1="87.40" x2="86.4" y2="87.40" stroke="#ff0000" stroke-width="2"/>
<line x1="118.70" y1="86.20" x2="125.80" y2="86.20" stroke="#222" stroke-width="0.85"/><line x1="118.70" y1="88.50" x2="125.80" y2="88.50" stroke="#222" stroke-width="0.85"/><line x1="107.70" y1="82.20" x2="104.10" y2="92.30" stroke="#222" stroke-width="0.9"/>
<text y="89.90" class="lg"><tspan x="89.00" class="dl">Δ</tspan><tspan x="98.80" class="it">z</tspan><tspan x="108.40" class="it">h</tspan><tspan x="129.20">0.033</tspan></text>
<rect x="73.40" y="99.20" width="4.2" height="4.2" rx="0.8" fill="#000" transform="rotate(45 75.50 101.30)"/>
<text x="89.00" y="103.30" class="lg" textLength="67.3" lengthAdjust="spacingAndGlyphs">DNS reference</text>
<rect x="639" y="39.5" width="99" height="70.0" fill="#fff" stroke="#a8a8a8" stroke-width="1"/>
<line x1="642.5" y1="47.50" x2="664.9" y2="47.50" stroke="#0000ff" stroke-width="2"/>
<line x1="697.20" y1="46.30" x2="704.30" y2="46.30" stroke="#222" stroke-width="0.85"/><line x1="697.20" y1="48.60" x2="704.30" y2="48.60" stroke="#222" stroke-width="0.85"/><line x1="686.20" y1="42.30" x2="682.60" y2="52.40" stroke="#222" stroke-width="0.9"/>
<text y="50.00" class="lg"><tspan x="667.50" class="dl">Δ</tspan><tspan x="677.30" class="it">z</tspan><tspan x="686.90" class="it">h</tspan><tspan x="707.70">0.100</tspan></text>
<line x1="642.5" y1="60.80" x2="664.9" y2="60.80" stroke="#00ffff" stroke-width="2"/>
<line x1="697.20" y1="59.60" x2="704.30" y2="59.60" stroke="#222" stroke-width="0.85"/><line x1="697.20" y1="61.90" x2="704.30" y2="61.90" stroke="#222" stroke-width="0.85"/><line x1="686.20" y1="55.60" x2="682.60" y2="65.70" stroke="#222" stroke-width="0.9"/>
<text y="63.30" class="lg"><tspan x="667.50" class="dl">Δ</tspan><tspan x="677.30" class="it">z</tspan><tspan x="686.90" class="it">h</tspan><tspan x="707.70">0.067</tspan></text>
<line x1="642.5" y1="74.10" x2="664.9" y2="74.10" stroke="#ff00ff" stroke-width="2"/>
<line x1="697.20" y1="72.90" x2="704.30" y2="72.90" stroke="#222" stroke-width="0.85"/><line x1="697.20" y1="75.20" x2="704.30" y2="75.20" stroke="#222" stroke-width="0.85"/><line x1="686.20" y1="68.90" x2="682.60" y2="79.00" stroke="#222" stroke-width="0.9"/>
<text y="76.60" class="lg"><tspan x="667.50" class="dl">Δ</tspan><tspan x="677.30" class="it">z</tspan><tspan x="686.90" class="it">h</tspan><tspan x="707.70">0.050</tspan></text>
<line x1="642.5" y1="87.40" x2="664.9" y2="87.40" stroke="#ff0000" stroke-width="2"/>
<line x1="697.20" y1="86.20" x2="704.30" y2="86.20" stroke="#222" stroke-width="0.85"/><line x1="697.20" y1="88.50" x2="704.30" y2="88.50" stroke="#222" stroke-width="0.85"/><line x1="686.20" y1="82.20" x2="682.60" y2="92.30" stroke="#222" stroke-width="0.9"/>
<text y="89.90" class="lg"><tspan x="667.50" class="dl">Δ</tspan><tspan x="677.30" class="it">z</tspan><tspan x="686.90" class="it">h</tspan><tspan x="707.70">0.033</tspan></text>
<rect x="651.90" y="99.20" width="4.2" height="4.2" rx="0.8" fill="#000" transform="rotate(45 654.00 101.30)"/>
<text x="667.50" y="103.30" class="lg" textLength="67.3" lengthAdjust="spacingAndGlyphs">DNS reference</text>
<text x="323.3" y="17.6" class="ti" textLength="92.2" lengthAdjust="spacingAndGlyphs">Flexi-Smag,</text><text x="422.6" y="17.6" class="ti" textLength="47.5" lengthAdjust="spacingAndGlyphs">AR=1</text>
</svg></body></html>
